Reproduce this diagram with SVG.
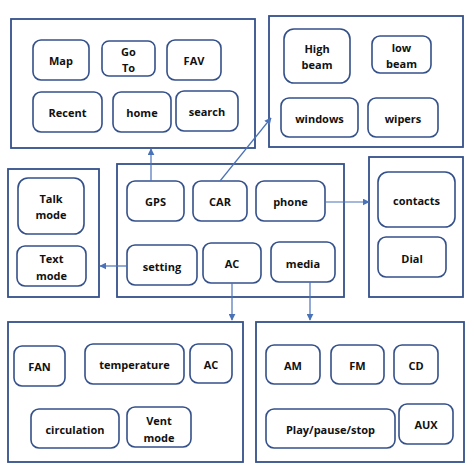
<svg xmlns="http://www.w3.org/2000/svg" width="474" height="474" viewBox="0 0 474 474">
<style>
.panel{fill:#fff;stroke:#34508a;stroke-width:1.8}
.node rect{fill:#fff;stroke:#34508a;stroke-width:1.6}
text{font-family:"Open Sans","Liberation Sans",sans-serif;font-weight:700;font-size:11px;fill:#111;text-anchor:middle;dominant-baseline:central}
.conn line{stroke:#4a72b8;stroke-width:1.2}
</style>
<defs>
<marker id="ah" viewBox="0 0 10 10" refX="9" refY="5" markerWidth="7" markerHeight="7" markerUnits="userSpaceOnUse" orient="auto">
<path d="M0,0 L10,5 L0,10 z" fill="#4a72b8"/>
</marker>
</defs>
<rect width="474" height="474" fill="#fff"/>

<g id="panel-gps"><rect class="panel" x="11" y="19" width="244" height="129"/></g>
<g id="panel-car"><rect class="panel" x="269" y="16" width="194" height="131"/></g>
<g id="panel-setting"><rect class="panel" x="8" y="169" width="91" height="128"/></g>
<g id="panel-main"><rect class="panel" x="117" y="164" width="227" height="133"/></g>
<g id="panel-phone"><rect class="panel" x="369" y="157" width="94" height="140"/></g>
<g id="panel-ac"><rect class="panel" x="8" y="322" width="235" height="140"/></g>
<g id="panel-media"><rect class="panel" x="256" y="322" width="208" height="140"/></g>

<g id="map" class="node"><rect x="33" y="40" width="56" height="40" rx="8"/><text x="61" y="60">Map</text></g>
<g id="goto" class="node"><rect x="102" y="41" width="53" height="35" rx="7"/><text x="128.5" y="51">Go</text><text x="128.5" y="67">To</text></g>
<g id="fav" class="node"><rect x="167" y="40" width="54" height="40" rx="8"/><text x="194" y="60">FAV</text></g>
<g id="recent" class="node"><rect x="33" y="92" width="69" height="40" rx="8"/><text x="67.5" y="112">Recent</text></g>
<g id="home" class="node"><rect x="113" y="92" width="58" height="40" rx="8"/><text x="142" y="112">home</text></g>
<g id="search" class="node"><rect x="176" y="91" width="62" height="40" rx="8"/><text x="207" y="111">search</text></g>

<g id="highbeam" class="node"><rect x="284" y="29" width="66" height="54" rx="10"/><text x="317" y="48">High</text><text x="317" y="64">beam</text></g>
<g id="lowbeam" class="node"><rect x="372" y="36" width="59" height="37" rx="8"/><text x="401.5" y="47">low</text><text x="401.5" y="63">beam</text></g>
<g id="windows" class="node"><rect x="281" y="98" width="77" height="39" rx="8"/><text x="319.5" y="118">windows</text></g>
<g id="wipers" class="node"><rect x="368" y="98" width="70" height="39" rx="8"/><text x="403" y="118">wipers</text></g>

<g id="talkmode" class="node"><rect x="18" y="178" width="66" height="56" rx="10"/><text x="51" y="198">Talk</text><text x="51" y="214">mode</text></g>
<g id="textmode" class="node"><rect x="17" y="246" width="69" height="40" rx="8"/><text x="51.5" y="258">Text</text><text x="51.5" y="275">mode</text></g>

<g id="gps" class="node"><rect x="127" y="181" width="57" height="40" rx="8"/><text x="155.5" y="201">GPS</text></g>
<g id="car" class="node"><rect x="193" y="181" width="54" height="40" rx="8"/><text x="220" y="201">CAR</text></g>
<g id="phone" class="node"><rect x="256" y="181" width="69" height="40" rx="8"/><text x="290.5" y="201">phone</text></g>
<g id="setting" class="node"><rect x="127" y="245" width="70" height="40" rx="8"/><text x="162" y="266">setting</text></g>
<g id="ac" class="node"><rect x="203" y="243" width="58" height="40" rx="8"/><text x="232" y="263">AC</text></g>
<g id="media" class="node"><rect x="271" y="242" width="64" height="40" rx="8"/><text x="303" y="263">media</text></g>

<g id="contacts" class="node"><rect x="378" y="172" width="77" height="55" rx="10"/><text x="416.5" y="200">contacts</text></g>
<g id="dial" class="node"><rect x="378" y="237" width="68" height="40" rx="8"/><text x="412" y="258">Dial</text></g>

<g id="fan" class="node"><rect x="14" y="346" width="51" height="40" rx="8"/><text x="39.5" y="366">FAN</text></g>
<g id="temperature" class="node"><rect x="85" y="344" width="99" height="40" rx="8"/><text x="134.5" y="364">temperature</text></g>
<g id="ac2" class="node"><rect x="190" y="344" width="42" height="39" rx="8"/><text x="211" y="364">AC</text></g>
<g id="circulation" class="node"><rect x="31" y="409" width="88" height="39" rx="8"/><text x="75" y="429">circulation</text></g>
<g id="ventmode" class="node"><rect x="127" y="407" width="64" height="40" rx="8"/><text x="159" y="420">Vent</text><text x="159" y="437">mode</text></g>

<g id="am" class="node"><rect x="266" y="345" width="54" height="39" rx="8"/><text x="293" y="365">AM</text></g>
<g id="fm" class="node"><rect x="331" y="345" width="53" height="39" rx="8"/><text x="357.5" y="365">FM</text></g>
<g id="cd" class="node"><rect x="394" y="345" width="44" height="39" rx="8"/><text x="416" y="365">CD</text></g>
<g id="playpausestop" class="node"><rect x="266" y="409" width="129" height="39" rx="8"/><text x="330.5" y="429">Play/pause/stop</text></g>
<g id="aux" class="node"><rect x="399" y="404" width="54" height="40" rx="8"/><text x="426" y="424">AUX</text></g>

<g id="connectors" class="conn">
<line x1="151" y1="181" x2="151" y2="149" marker-end="url(#ah)"/>
<line x1="220" y1="181" x2="271" y2="118" marker-end="url(#ah)"/>
<line x1="325" y1="202" x2="369" y2="202" marker-end="url(#ah)"/>
<line x1="127" y1="266" x2="100" y2="266" marker-end="url(#ah)"/>
<line x1="232" y1="283" x2="232" y2="320" marker-end="url(#ah)"/>
<line x1="310" y1="282" x2="310" y2="320" marker-end="url(#ah)"/>
</g>
</svg>
